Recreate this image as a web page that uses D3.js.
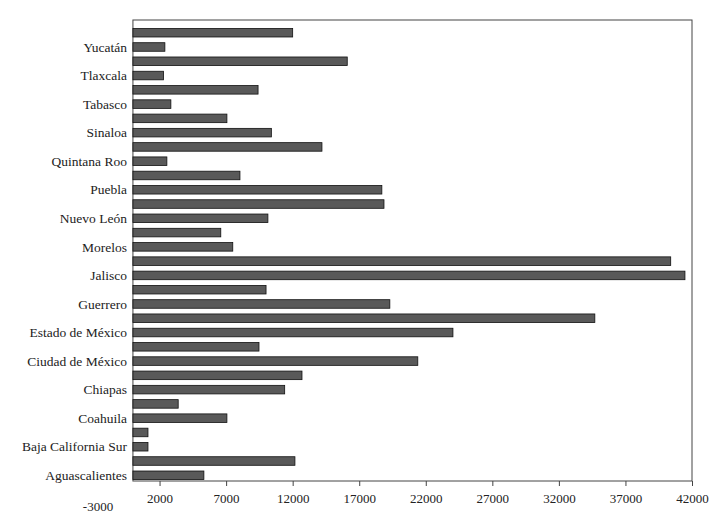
<!DOCTYPE html><html><head><meta charset="utf-8"><script src="https://cdn.jsdelivr.net/npm/d3@7"></script>
<style>body{margin:0;background:#fff}</style></head><body><svg width="720" height="520"></svg><script>
const states=["Aguascalientes","Baja California","Baja California Sur","Campeche","Coahuila","Colima","Chiapas","Chihuahua","Ciudad de México","Durango","Estado de México","Guanajuato","Guerrero","Hidalgo","Jalisco","Michoacán","Morelos","Nayarit","Nuevo León","Oaxaca","Puebla","Querétaro","Quintana Roo","San Luis Potosí","Sinaloa","Sonora","Tabasco","Tamaulipas","Tlaxcala","Veracruz","Yucatán","Zacatecas"];
const values=[5330,12170,1130,1130,7060,3400,11400,12700,21400,9470,24040,34700,19300,10000,41470,40400,7500,6600,10140,18860,18700,8040,2550,14200,10400,7060,2850,9400,2300,16100,2400,12000];
const tickVals=[2000,7000,12000,17000,22000,27000,32000,37000,42000];
const tickLabels=["2000","7000","12000","17000","22000","27000","32000","37000","42000"];
const svg=d3.select("svg");
const x=d3.scaleLinear().domain([-3000,42000]).range([93,692]);
const y=d3.scaleBand().domain(states.slice().reverse()).range([27,481]).paddingInner(0.4).paddingOuter(0.1);
const x0=x(0),plotTop=20,bot=481;
svg.append("rect").attr("x",x0).attr("y",plotTop).attr("width",x(42000)-x0).attr("height",bot-plotTop).attr("fill","none").attr("stroke","#444");
svg.selectAll(".b").data(states).join("rect").attr("x",x0).attr("y",d=>y(d)).attr("height",y.bandwidth())
 .attr("width",(d,i)=>x(values[i])-x0).attr("fill","#595959").attr("stroke","#111").attr("stroke-width",0.8);
const ax=svg.append("g").attr("transform",`translate(0,${bot})`).call(d3.axisBottom(x).tickValues(tickVals).tickFormat((d,i)=>tickLabels[i]).tickSize(5).tickSizeOuter(0));
ax.select(".domain").remove();
ax.selectAll("line").attr("stroke","#444");
ax.selectAll("text").attr("font-family","Liberation Serif").attr("font-size",13).attr("fill","#222").attr("dy","1.1em");
svg.append("text").attr("x",x(-3000)+5).attr("y",bot+5).attr("dy","1.9em").attr("text-anchor","middle").attr("font-family","Liberation Serif").attr("font-size",13).attr("fill","#222").text("-3000");
svg.selectAll(".l").data(states.filter((d,i)=>i%2==0)).join("text").attr("x",x0-6).attr("y",d=>y(d)+y.bandwidth()/2).attr("dy","0.35em")
 .attr("text-anchor","end").attr("font-family","Liberation Serif").attr("font-size",13.5).attr("fill","#222").text(d=>d);
</script></body></html>
